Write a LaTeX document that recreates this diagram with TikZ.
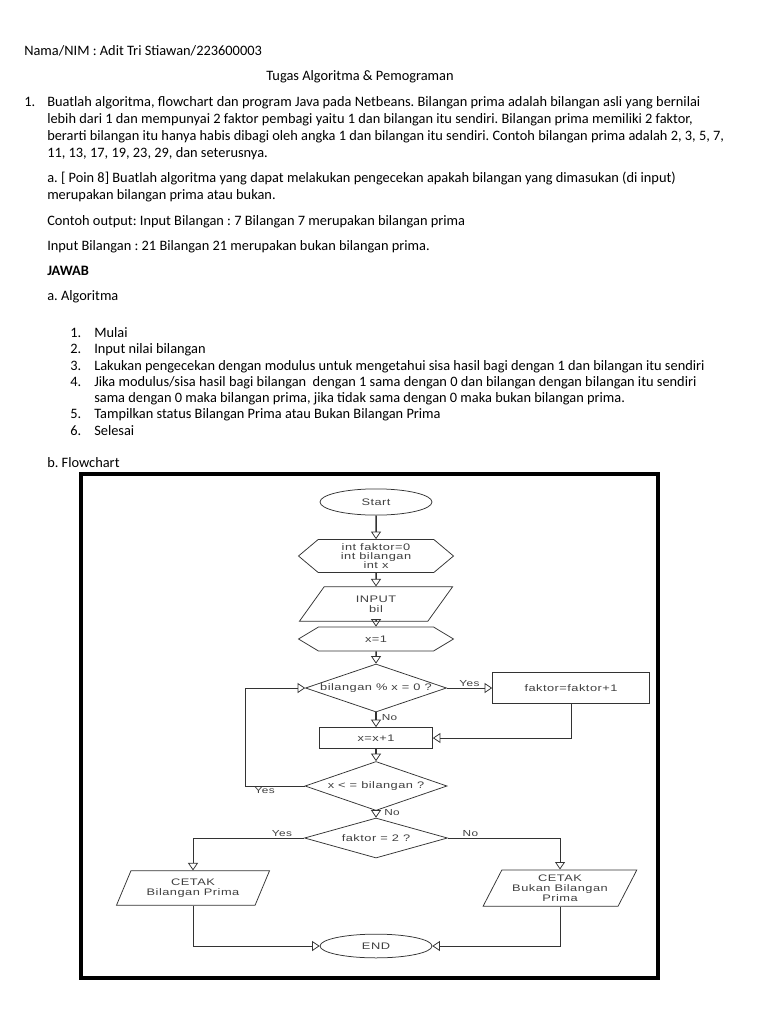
\documentclass[tikz,border=0pt]{standalone}
\usepackage{fontspec}
\setmainfont{Carlito}
\newfontfamily\chartfont[FakeStretch=1.35,LetterSpace=5]{Liberation Sans}
\usetikzlibrary{arrows.meta,shapes.geometric,shapes.symbols}
\frenchspacing

\begin{document}
\begin{tikzpicture}[x=0.8pt,y=-0.8pt,
    baris/.style={anchor=base west,inner sep=0pt,font=\fontsize{11.5}{13}\selectfont},
    alur/.style={draw=black!80,line width=0.6pt,inner sep=0pt,align=center,
        text=black!75,font=\chartfont\fontsize{7.6}{8}\selectfont},
    terminal/.style={alur,ellipse,minimum width=89.6pt,minimum height=21pt},
    siap/.style={alur,signal,signal to=west and east,minimum width=124pt},
    io/.style={alur,trapezium,trapezium left angle=60,trapezium right angle=120,
        trapezium stretches=true,minimum width=123pt,minimum height=27.5pt},
    proses/.style={alur,rectangle},
    putusan/.style={alur,diamond,aspect=2.9},
    label/.style={inner sep=1pt,text=black!75,font=\chartfont\fontsize{7}{8}\selectfont},
    panah/.style={draw=black!80,line width=0.6pt,-{Triangle[open,width=8pt,length=6pt,line width=0.6pt]}},
    turun/.style={panah,line width=1.2pt}]

    % Halaman
    \fill[white] (0,0) rectangle (768,1024);
    \useasboundingbox (0,0) rectangle (768,1024);

    % Judul
    \node[baris] (nama) at (24,56) {Nama/NIM : Adit Tri Stiawan/223600003};
    \node[baris,anchor=base] (judul) at (360,81) {Tugas Algoritma \& Pemograman};

    % Soal
    \node[baris] (no1) at (24,107) {1.};
    \node[baris] (s1) at (47,107) {Buatlah algoritma, flowchart dan program Java pada Netbeans. Bilangan prima adalah bilangan asli yang bernilai};
    \node[baris] (s2) at (47,124) {lebih dari 1 dan mempunyai 2 faktor pembagi yaitu 1 dan bilangan itu sendiri. Bilangan prima memiliki 2 faktor,};
    \node[baris] (s3) at (47,141) {berarti bilangan itu hanya habis dibagi oleh angka 1 dan bilangan itu sendiri. Contoh bilangan prima adalah 2, 3, 5, 7,};
    \node[baris] (s4) at (47,158) {11, 13, 17, 19, 23, 29, dan seterusnya.};
    \node[baris] (p1) at (47,183) {a. [ Poin 8] Buatlah algoritma yang dapat melakukan pengecekan apakah bilangan yang dimasukan (di input)};
    \node[baris] (p2) at (47,200) {merupakan bilangan prima atau bukan.};
    \node[baris] (c1) at (47,225) {Contoh output: Input Bilangan : 7 Bilangan 7 merupakan bilangan prima};
    \node[baris] (c2) at (47,250) {Input Bilangan : 21 Bilangan 21 merupakan bukan bilangan prima.};

    % Jawab
    \node[baris,font=\fontsize{11.5}{13}\selectfont\bfseries] (jawab) at (47,275) {JAWAB};
    \node[baris] (algo) at (47,300) {a. Algoritma};
    \foreach \no/\yy/\isi in {1/337/{Mulai}, 2/353/{Input nilai bilangan},
        3/370/{Lakukan pengecekan dengan modulus untuk mengetahui sisa hasil bagi dengan 1 dan bilangan itu sendiri},
        4/386/{Jika modulus/sisa hasil bagi bilangan~ dengan 1 sama dengan 0 dan bilangan dengan bilangan itu sendiri},
        5/418/{Tampilkan status Bilangan Prima atau Bukan Bilangan Prima}, 6/435/{Selesai}}{
        \node[baris] (n\no) at (70,\yy) {\no.};
        \node[baris] (l\no) at (94,\yy) {\isi};
    }
    \node[baris] (l4b) at (94,402) {sama dengan 0 maka bilangan prima, jika tidak sama dengan 0 maka bukan bilangan prima.};
    \node[baris] (flow) at (47,467) {b. Flowchart};

    % Bingkai flowchart
    \draw[line width=3.2pt] (81,474) rectangle (658,978);

    % Simbol flowchart
    \node[terminal] (start) at (376,502) {Start};
    \node[siap,signal pointer angle=80,minimum height=26.4pt,font=\chartfont\fontsize{7.6}{7.4}\selectfont] (dekl) at (376,556) {int faktor=0\\int bilangan\\int x};
    \node[io] (input) at (376,604) {INPUT\\bil};
    \node[siap,signal pointer angle=62,minimum height=19.2pt] (awal) at (376,639) {x=1};
    \node[putusan,minimum width=112.8pt,minimum height=38.4pt] (cek) at (376,688) {bilangan \% x = 0 ?};
    \node[proses,minimum width=125.6pt,minimum height=24.8pt] (tambah) at (571,688) {faktor=faktor+1};
    \node[proses,minimum width=90.4pt,minimum height=16.8pt] (naik) at (376,738) {x=x+1};
    \node[putusan,minimum width=113.6pt,minimum height=39.2pt] (ulang) at (376,786) {x < = bilangan ?};
    \node[putusan,minimum width=114.4pt,minimum height=32pt] (faktor2) at (376,838) {faktor = 2 ?};
    \node[io] (cetakya) at (193,888) {CETAK\\Bilangan Prima};
    \node[io,minimum height=29pt] (cetaktidak) at (560,888) {CETAK\\Bukan Bilangan\\Prima};
    \node[terminal,minimum height=19pt] (selesai) at (376,946) {END};
    \coordinate (kiri) at (245,786);

    % Garis alur
    \draw[turun] (start) -- (dekl);
    \draw[turun] (dekl) -- (input);
    \draw[turun] (input) -- (awal);
    \draw[turun] (awal) -- (cek);
    \draw[panah] (cek.east) -- node[label,above] (y1) {Yes} (tambah.west);
    \draw[turun] (cek) -- node[label,right,pos=0.35,xshift=3pt] (n1) {No} (naik);
    \draw[panah] (tambah.south) |- (naik.east);
    \draw[turun] (naik) -- (ulang);
    \draw[panah] (ulang.west) -- node[label,below,pos=0.67] (y2) {Yes} (kiri) |- (cek.west);
    \draw[turun] (ulang) -- node[label,right,pos=0,xshift=5pt,yshift=-1pt] (n2) {No} (faktor2);
    \draw[panah] (faktor2.west) -| node[label,above,pos=0.1] (y3) {Yes} (cetakya.north);
    \draw[panah] (faktor2.east) -| node[label,above,pos=0.1] (n3) {No} (cetaktidak.north);
    \draw[panah] (cetakya.south) |- (selesai.west);
    \draw[panah] (cetaktidak.south) |- (selesai.east);
\end{tikzpicture}
\end{document}
